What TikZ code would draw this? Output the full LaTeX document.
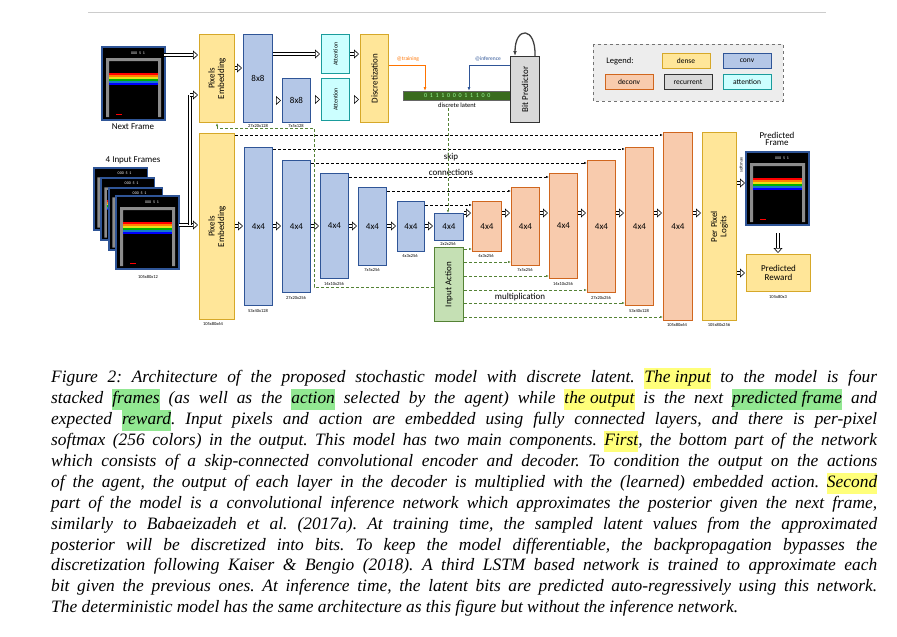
\documentclass[tikz,border=0pt]{standalone}
\usepackage{fontspec}
\setmainfont{Liberation Serif}
\newfontfamily\dfont{Carlito}
\usetikzlibrary{arrows.meta}
\definecolor{denseF}{HTML}{FFE699}\definecolor{denseD}{HTML}{D6A829}
\definecolor{convF}{HTML}{B4C7E7}\definecolor{convD}{HTML}{2F5597}
\definecolor{deconvF}{HTML}{F8CBAD}\definecolor{deconvD}{HTML}{D0661E}
\definecolor{attF}{HTML}{CCFFFF}\definecolor{attD}{HTML}{1A9C9C}
\definecolor{actF}{HTML}{C5E0B4}\definecolor{actD}{HTML}{548235}
\definecolor{bitF}{HTML}{3A6B1E}
\definecolor{hlY}{HTML}{FFFF7A}\definecolor{hlG}{HTML}{92E892}
\newcommand\hy[1]{{\setlength\fboxsep{0pt}\colorbox{hlY}{\strut #1}}}
\newcommand\hg[1]{{\setlength\fboxsep{0pt}\colorbox{hlG}{\strut #1}}}
% block: name, style, x1, y1, x2, y2, text
\newcommand\blk[7]{\node[#2, anchor=north west, minimum width={(#5-#3)*1pt}, minimum height={(#6-#4)*1pt}] (#1) at (#3,#4) {#7};}
\tikzset{
  blk/.style={draw, line width=1pt, inner sep=0pt, font=\dfont\fontsize{9}{10}\selectfont},
  dense/.style={blk, fill=denseF, draw=denseD},
  conv/.style={blk, fill=convF, draw=convD},
  deconv/.style={blk, fill=deconvF, draw=deconvD},
  att/.style={blk, fill=attF, draw=attD},
  rec/.style={blk, fill=black!15, draw=black!80},
  act/.style={blk, fill=actF, draw=actD},
  dim/.style={font=\dfont\fontsize{4.5}{5}\selectfont, inner sep=1pt},
  harrow/.style={double=white, double distance=2.4pt, line width=0.6pt, -{Triangle[open, length=5pt, width=9pt, line width=0.6pt]}, shorten >=1pt},
  skip/.style={densely dashed, line width=0.6pt, -{Latex[length=3pt]}},
  mult/.style={densely dashed, line width=0.6pt, draw=actD, -{Latex[length=3pt]}},
  atari/.pic={
    \fill[black] (0,0) rectangle (63,73);
    \draw[convD, line width=1.2pt] (0,0) rectangle (63,73);
    \fill[black!45] (4,11) rectangle (59,14) (4,11) rectangle (7,70) (56,11) rectangle (59,70);
    \node[white, font=\dfont\fontsize{4}{4}\selectfont, inner sep=0pt] at (36,6) {000\ \ 5\ \ 1};
    \foreach \c [count=\i] in {red,orange,yellow!90!black,green!70!black,cyan!60!blue,blue} {
      \fill[\c] (7,{24+2*\i}) rectangle (56,{26+2*\i});}
    \fill[red] (14,67) rectangle (20,68);
  }
}
\begin{document}
\begin{tikzpicture}[x=1pt, y=-1pt]
\useasboundingbox (0,0) rectangle (897,637);
\draw[black!20, line width=1pt] (88,12) -- (826,12);

% images
\pic at (102,47) {atari};
\node[font=\dfont\fontsize{9}{10}\selectfont] (nf) at (133,127) {Next Frame};
\node[font=\dfont\fontsize{9}{10}\selectfont] (inf) at (133,160) {4 Input Frames};
\pic[scale=0.85] at (94,168) {atari};
\pic[scale=0.85] at (101,178) {atari};
\pic[scale=0.85] at (109,188) {atari};
\pic at (116,196) {atari};
\node[dim] at (148,277) {105x80x12};
\pic at (746,152) {atari};
\node[font=\dfont\fontsize{9}{9}\selectfont, align=center] (pf) at (777,139) {Predicted\\[-2pt]Frame};
\coordinate (nfo) at (164,55);
\coordinate (info) at (179,225);

% top branch
\blk{pe1}{dense}{199}{34}{234}{122}{\rotatebox{90}{\shortstack{Pixels\\Embedding}}}
\blk{c81}{conv}{243}{34}{272}{122}{8x8}
\blk{c82}{conv}{282}{78}{310}{122}{8x8}
\node[dim] at (258,126) {27x20x128};
\node[dim] at (296,126) {7x5x128};
\blk{at1}{att}{321}{34}{349}{73}{\rotatebox{90}{\fontsize{6}{6}\selectfont Attention}}
\blk{at2}{att}{321}{78}{349}{120}{\rotatebox{90}{\fontsize{6}{6}\selectfont Attention}}
\blk{disc}{dense}{360}{34}{388}{122}{\rotatebox{90}{Discretization}}
\node[fill=bitF, draw=black!60, anchor=north west, minimum width=108pt, minimum height=9pt, inner sep=0pt, text=green!40, font=\dfont\fontsize{6}{6}\selectfont] (bits) at (403,91) {0\ \ 1\ \ 1\ \ 1\ \ 0\ \ 0\ \ 0\ \ 1\ \ 1\ \ 1\ \ 0\ \ 0};
\node[font=\dfont\fontsize{6.5}{7}\selectfont, inner sep=1pt] (dl) at (457,105) {discrete latent};
\blk{bp}{rec}{510}{56}{539}{122}{\rotatebox{90}{Bit Predictor}}
\draw[line width=1.3pt, black!75, -{Latex[length=5pt]}] (535,56) .. controls (536,26) and (515,26) .. (515,56);
\draw[orange!90!red, line width=1pt, -{Latex[length=4pt]}] (disc.east |- 0,65) -| (425,91);
\node[orange!90!red, font=\dfont\fontsize{5.5}{6}\selectfont, inner sep=1pt] at (408,59) {@training};
\draw[convD, line width=1pt, -{Latex[length=4pt]}] (bp.west |- 0,65) -| (469,91);
\node[convD, font=\dfont\fontsize{5.5}{6}\selectfont, inner sep=1pt] at (488,59) {@inference};

\draw[harrow] (nfo) -- (pe1.west |- nfo);
\draw[harrow] (pe1.east |- 0,68) -- (c81.west |- 0,68);
\draw[harrow] (c81.east |- at1) -- (at1.west);
\draw[harrow] (c81.east |- c82) -- (c82.west);
\draw[harrow] (c82.east |- at2) -- (at2.west);
\draw[harrow] (at1.east) -- (disc.west |- at1);
\draw[harrow] (at2.east) -- (disc.west |- at2);

% legend
\draw[dashed, black!55, fill=black!7, line width=0.8pt] (593,44) rectangle (783,101);
\node[font=\dfont\fontsize{8.5}{9}\selectfont] (lg) at (620,61) {Legend:};
\tikzset{lgd/.style={font=\dfont\fontsize{7.5}{8}\selectfont, minimum width=48pt, minimum height=15pt}}
\node[dense, lgd] (l1) at (686,61) {dense};
\node[conv, lgd] (l2) at (747,61) {conv};
\node[deconv, lgd] (l3) at (629,82) {deconv};
\node[rec, lgd] (l4) at (688,82) {recurrent};
\node[att, lgd] (l5) at (747,82) {attention};

% encoder
\blk{pe2}{dense}{199}{133}{234}{319}{\rotatebox{90}{\shortstack{Pixels\\Embedding}}}
\blk{e1}{conv}{244}{147}{272}{305}{4x4}
\blk{e2}{conv}{282}{160}{310}{292}{4x4}
\blk{e3}{conv}{320}{173}{348}{278}{4x4}
\blk{e4}{conv}{358}{187}{386}{265}{4x4}
\blk{e5}{conv}{397}{201}{424}{251}{4x4}
\blk{e6}{conv}{434}{213}{463}{240}{4x4}
\blk{ia}{act}{434}{247}{463}{321}{\rotatebox{90}{Input Action}}
\node[dim] at (213,324) {105x80x64};
\node[dim] at (258,311) {53x40x128};
\node[dim] at (296,298) {27x20x256};
\node[dim] at (334,284) {14x10x256};
\node[dim] at (372,270) {7x5x256};
\node[dim] at (410,256) {4x3x256};
\node[dim] at (448,244) {2x2x256};
% bypass under the decoder
\coordinate (byp) at (778,233);
\draw[double=white, double distance=3.5pt, line width=0.6pt] (e6.east |- byp) -- (byp);
% decoder
\blk{d1}{deconv}{472}{201}{501}{251}{4x4}
\blk{d2}{deconv}{511}{187}{539}{265}{4x4}
\blk{d3}{deconv}{549}{173}{577}{278}{4x4}
\blk{d4}{deconv}{587}{160}{615}{292}{4x4}
\blk{d5}{deconv}{625}{147}{653}{305}{4x4}
\blk{d6}{deconv}{663}{132}{692}{320}{4x4}
\blk{ppl}{dense}{702}{132}{736}{320}{\rotatebox{90}{\shortstack{Per Pixel\\Logits}}}
\blk{rw}{dense}{746}{254}{810}{291}{\shortstack{Predicted\\Reward}}
\node[dim] at (486,256) {4x3x256};
\node[dim] at (525,270) {7x5x256};
\node[dim] at (563,284) {14x10x256};
\node[dim] at (601,298) {27x20x256};
\node[dim] at (639,311) {53x40x128};
\node[dim] at (677,325) {105x80x64};
\node[dim] at (719,325) {105x80x256};
\node[dim] at (778,297) {105x80x3};
\node[font=\dfont\fontsize{4.5}{5}\selectfont, rotate=90, inner sep=0pt] at (741,165) {softmax};

% main flow
\draw[harrow] (info) -- (pe2.west |- info);
\draw[double=white, double distance=2.4pt, line width=0.6pt] (190,225) -- (190,95);
\draw[harrow] (190,95) -- (pe1.west |- 0,95);
\foreach \a/\b in {pe2/e1,e1/e2,e2/e3,e3/e4,e4/e5,e5/e6}
  \draw[harrow] (\a.east |- 0,226) -- (\b.west |- 0,226);
\foreach \a/\b in {e6/d1,d1/d2,d2/d3,d3/d4,d4/d5,d5/d6,d6/ppl}
  \draw[harrow] (\a.east |- 0,213) -- (\b.west |- 0,213);
\draw[double=white, double distance=3.5pt, line width=0.6pt] (ppl.east |- byp) -- (byp);
\draw[harrow] (byp) -- (rw.north -| byp);
\draw[harrow] (ppl.east |- 0,183) -- (746,183);
\draw[harrow] (ppl.east |- 0,273) -- (rw.west |- 0,273);

% skip connections
\draw[skip] (pe2.east |- 0,135) -- (d6.west |- 0,135);
\draw[skip] (e1.east |- 0,149) -- (d5.west |- 0,149);
\draw[skip] (e2.east |- 0,163) -- (d4.west |- 0,163);
\draw[skip] (e3.east |- 0,177) -- (d3.west |- 0,177);
\draw[skip] (e4.east |- 0,191) -- (d2.west |- 0,191);
\draw[skip] (e5.east |- 0,205) -- (d1.west |- 0,205);
\node[font=\dfont\fontsize{9}{10}\selectfont] at (451,157) {skip};
\node[font=\dfont\fontsize{9}{10}\selectfont] at (451,172) {connections};

% latent and action paths
\draw[mult] (dl.south -| 448,0) -- (e6.north -| 448,0);
\draw[mult] (ia.west |- 0,287) -| (314,128) -| (pe1.south -| 217,0);
\foreach \d/\y in {d1/249,d2/262,d3/276,d4/290,d5/303,d6/317}
  \draw[mult] (ia.east |- 0,\y) -- (\d.west |- 0,\y);
\node[font=\dfont\fontsize{9}{10}\selectfont] at (520,297) {multiplication};

% caption
\node[anchor=north west, inner sep=0pt, text width=826pt, align=justify, font=\itshape\fontsize{17.4}{20.9}\selectfont\frenchspacing] (cap) at (51,368) {%
Figure 2: Architecture of the proposed stochastic model with discrete latent. \hy{The input} to the model is four\linebreak
stacked \hg{frames} (as well as the \hg{action} selected by the agent) while \hy{the output} is the next \hg{predicted frame} and\linebreak
expected \hg{reward}. Input pixels and action are embedded using fully connected layers, and there is per-pixel\linebreak
softmax (256 colors) in the output. This model has two main components. \hy{First}, the bottom part of the network\linebreak
which consists of a skip-connected convolutional encoder and decoder. To condition the output on the actions\linebreak
of the agent, the output of each layer in the decoder is multiplied with the (learned) embedded action. \hy{Second}\linebreak
part of the model is a convolutional inference network which approximates the posterior given the next frame,\linebreak
similarly to Babaeizadeh et al. (2017a). At training time, the sampled latent values from the approximated\linebreak
posterior will be discretized into bits. To keep the model differentiable, the backpropagation bypasses the\linebreak
discretization following Kaiser \& Bengio (2018). A third LSTM based network is trained to approximate each\linebreak
bit given the previous ones. At inference time, the latent bits are predicted auto-regressively using this network.\linebreak
The deterministic model has the same architecture as this figure but without the inference network.};
\end{tikzpicture}
\end{document}
